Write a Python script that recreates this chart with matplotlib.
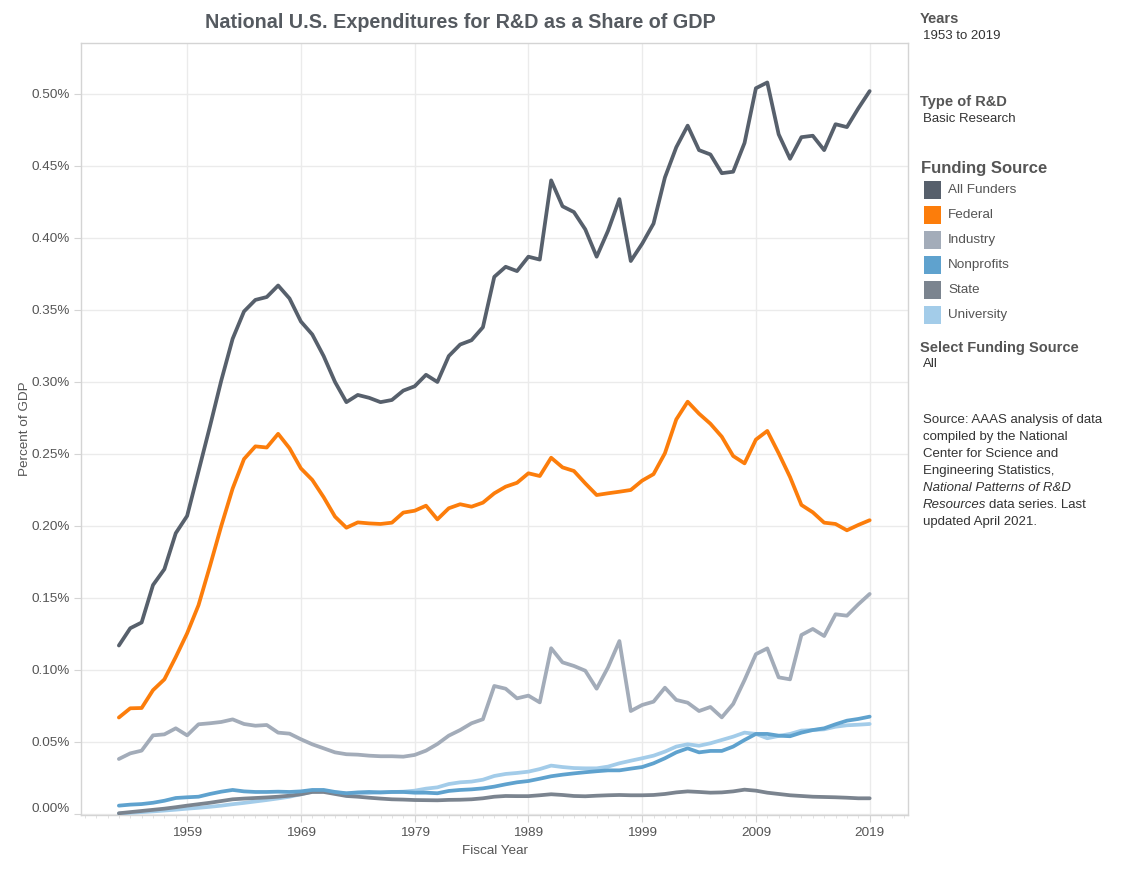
import matplotlib

matplotlib.use("Agg")
import matplotlib.pyplot as plt
import matplotlib.transforms as mtransforms
import numpy as np
from matplotlib.patches import Rectangle
from matplotlib.ticker import FixedLocator, FuncFormatter, MultipleLocator

plt.rcParams["font.family"] = ["Liberation Sans", "DejaVu Sans"]

W, H = 1124, 874

years = list(range(1953, 2020))

all_funders = [
    0.117, 0.129, 0.133, 0.159, 0.170, 0.195, 0.207, 0.238, 0.269, 0.301,
    0.330, 0.349, 0.357, 0.359, 0.367, 0.358, 0.342, 0.333, 0.318, 0.300,
    0.286, 0.291, 0.289, 0.286, 0.2875, 0.294, 0.297, 0.305, 0.300, 0.318,
    0.326, 0.329, 0.338, 0.373, 0.380, 0.377, 0.387, 0.385, 0.440, 0.422,
    0.418, 0.406, 0.387, 0.405, 0.427, 0.384, 0.396, 0.410, 0.442, 0.463,
    0.478, 0.461, 0.458, 0.445, 0.446, 0.466, 0.504, 0.508, 0.472, 0.455,
    0.470, 0.471, 0.461, 0.479, 0.477, 0.490, 0.502,
]
federal = [
    0.067, 0.0734, 0.0736, 0.086, 0.0935, 0.109, 0.1255, 0.145, 0.172, 0.200,
    0.226, 0.2465, 0.2553, 0.2545, 0.264, 0.254, 0.240, 0.232, 0.220, 0.2065,
    0.1988, 0.2025, 0.2018, 0.2014, 0.2023, 0.2093, 0.2106, 0.2141, 0.2046, 0.2123,
    0.2151, 0.2134, 0.2162, 0.2227, 0.2273, 0.230, 0.2366, 0.2347, 0.2474, 0.2407,
    0.2382, 0.2296, 0.2215, 0.2227, 0.2238, 0.225, 0.2315, 0.236, 0.2505, 0.274,
    0.2863, 0.278, 0.271, 0.262, 0.2486, 0.2435, 0.260, 0.266, 0.2505, 0.234,
    0.2146, 0.2095, 0.2023, 0.2014, 0.197, 0.2007, 0.204,
]
industry = [
    0.0382, 0.0421, 0.044, 0.0546, 0.0553, 0.0595, 0.0546, 0.0623, 0.063, 0.0639,
    0.0657, 0.0625, 0.0613, 0.0618, 0.0565, 0.0558, 0.0519, 0.0484, 0.0456, 0.0428,
    0.0415, 0.0412, 0.0405, 0.0401, 0.0401, 0.0398, 0.041, 0.044, 0.0486, 0.0544,
    0.0583, 0.063, 0.0658, 0.0889, 0.087, 0.0803, 0.0822, 0.0775, 0.1151, 0.1053,
    0.1028, 0.0995, 0.087, 0.1019, 0.1201, 0.0715, 0.0757, 0.078, 0.0877, 0.0792,
    0.0773, 0.0715, 0.0743, 0.0671, 0.0764, 0.093, 0.111, 0.115, 0.0949, 0.0935,
    0.1243, 0.1285, 0.1236, 0.1387, 0.1377, 0.1456, 0.1528,
]
nonprofits = [
    0.0058, 0.0065, 0.0069, 0.0078, 0.0092, 0.0111, 0.0116, 0.012, 0.0139, 0.0155,
    0.0167, 0.0157, 0.0153, 0.0153, 0.0155, 0.0153, 0.0157, 0.0167, 0.0167, 0.0153,
    0.0144, 0.015, 0.0153, 0.015, 0.0153, 0.0153, 0.0148, 0.0148, 0.0144, 0.016,
    0.0167, 0.0171, 0.0178, 0.019, 0.0206, 0.022, 0.0229, 0.0245, 0.0262, 0.0273,
    0.0282, 0.029, 0.0297, 0.0303, 0.0303, 0.0315, 0.0326, 0.0352, 0.0387, 0.0428,
    0.0456, 0.0428, 0.0438, 0.0438, 0.0468, 0.0514, 0.0556, 0.0556, 0.0544, 0.054,
    0.0565, 0.0583, 0.0595, 0.0623, 0.0648, 0.066, 0.0676,
]
state = [
    0.0005, 0.0013, 0.0021, 0.0029, 0.0037, 0.0047, 0.0058, 0.0068, 0.0078, 0.009,
    0.0102, 0.0107, 0.0111, 0.0115, 0.012, 0.0127, 0.0137, 0.0153, 0.0153, 0.0139,
    0.0125, 0.012, 0.0113, 0.0107, 0.0102, 0.0100, 0.0097, 0.0096, 0.0095, 0.0098,
    0.0099, 0.0102, 0.0109, 0.012, 0.0125, 0.0124, 0.0124, 0.013, 0.0137, 0.0132,
    0.0125, 0.0123, 0.0127, 0.013, 0.0132, 0.013, 0.013, 0.0132, 0.0139, 0.015,
    0.0157, 0.0153, 0.0148, 0.015, 0.0157, 0.0169, 0.0162, 0.0148, 0.0139, 0.013,
    0.0125, 0.012, 0.0118, 0.0116, 0.0113, 0.0109, 0.0109,
]
university = [
    0.0003, 0.0008, 0.0013, 0.0018, 0.0024, 0.003, 0.0037, 0.0043, 0.005, 0.0058,
    0.0068, 0.0077, 0.0087, 0.0097, 0.0108, 0.012, 0.0137, 0.0155, 0.0158, 0.015,
    0.0142, 0.0146, 0.0146, 0.015, 0.0152, 0.0155, 0.0162, 0.0176, 0.0185, 0.0208,
    0.022, 0.0225, 0.0238, 0.0264, 0.0278, 0.0285, 0.0294, 0.0312, 0.0336, 0.0326,
    0.0319, 0.0317, 0.0317, 0.0329, 0.0352, 0.037, 0.0387, 0.0405, 0.0433, 0.0468,
    0.0484, 0.0474, 0.0491, 0.0514, 0.0537, 0.0565, 0.0556, 0.0526, 0.0542, 0.0556,
    0.0579, 0.0583, 0.0588, 0.0606, 0.0616, 0.062, 0.0625,
]

series_names = ["All Funders", "Federal", "Industry", "Nonprofits", "State", "University"]
series_colors = ["#57606C", "#FC7D0B", "#A3ACB9", "#5FA2CE", "#7B848F", "#A3CCE9"]
x_tick_years = [1959, 1969, 1979, 1989, 1999, 2009, 2019]
y_ticks = [0.0, 0.05, 0.10, 0.15, 0.20, 0.25, 0.30, 0.35, 0.40, 0.45, 0.50]

TEXT = "#555555"
GRID = "#EBEBEB"


def fx(px):
    return px / W


def fy(py):
    return 1 - py / H


fig = plt.figure(figsize=(W / 100, H / 100), dpi=100)
fig.patch.set_facecolor("white")
ax = fig.add_axes([fx(81), fy(815), fx(908) - fx(81), fy(43) - fy(815)])

values = dict(zip(series_names, [all_funders, federal, industry, nonprofits, state, university]))
draw_order = ["University", "State", "Nonprofits", "Industry", "Federal", "All Funders"]
for name in draw_order:
    color = series_colors[series_names.index(name)]
    ax.plot(years, values[name], color=color, linewidth=2.7, solid_joinstyle="round",
            solid_capstyle="round", zorder=3)

ax.set_xlim(1949.67, 2022.37)
ax.set_ylim(-0.0007, 0.5354)

ax.xaxis.set_major_locator(FixedLocator(x_tick_years))
ax.xaxis.set_minor_locator(MultipleLocator(1))
ax.yaxis.set_major_locator(FixedLocator(y_ticks))
ax.yaxis.set_major_formatter(FuncFormatter(lambda v, p: f"{v:.2f}%"))

ax.grid(True, which="major", color=GRID, linewidth=1.0, zorder=0)
ax.set_axisbelow(True)
for line in ax.get_ygridlines():
    if abs(line.get_ydata()[0] - 0.30) < 1e-9:
        line.set_color("#E2E2E2")
        line.set_linewidth(1.8)

for side in ["left", "right", "top", "bottom"]:
    ax.spines[side].set_color("#D4D4D4")
    ax.spines[side].set_linewidth(1.0)

ax.tick_params(axis="x", which="major", length=5, color="#D4D4D4", labelsize=9.7,
               labelcolor=TEXT, pad=4)
ax.tick_params(axis="x", which="minor", length=2.5, color="#DDDDDD")
ax.tick_params(axis="y", which="major", length=5, color="#D4D4D4", labelsize=9.7,
               labelcolor=TEXT, pad=3)

# the bottom label sits a little higher, as in the reference
fig.canvas.draw()
zero_label = ax.yaxis.get_major_ticks()[0].label1
zero_label.set_transform(zero_label.get_transform()
                         + mtransforms.ScaledTranslation(0, 6 / 100, fig.dpi_scale_trans))

ax.set_xlabel("Fiscal Year", fontsize=9.7, color=TEXT, labelpad=4)
ax.set_ylabel("Percent of GDP", fontsize=9.7, color=TEXT, labelpad=0)

fig.text(fx(460), fy(22), "National U.S. Expenditures for R&D as a Share of GDP",
         ha="center", va="center", fontsize=14.2, fontweight="bold", color="#555A60")

# right-hand panel
fig.text(fx(920), fy(19), "Years", ha="left", va="center", fontsize=10.5,
         fontweight="bold", color=TEXT)
fig.text(fx(923), fy(36), "1953 to 2019", ha="left", va="center", fontsize=9.5, color="#333333")
fig.text(fx(920), fy(102), "Type of R&D", ha="left", va="center", fontsize=10.5,
         fontweight="bold", color=TEXT)
fig.text(fx(923), fy(119), "Basic Research", ha="left", va="center", fontsize=9.5,
         color="#333333")
fig.text(fx(921), fy(169), "Funding Source", ha="left", va="center", fontsize=12,
         fontweight="bold", color=TEXT)

for i, (name, color) in enumerate(zip(series_names, series_colors)):
    cy = 190 + i * 25
    fig.add_artist(Rectangle((fx(924), fy(cy + 9)), fx(17), 18 / H, transform=fig.transFigure,
                             facecolor=color, edgecolor="none"))
    fig.text(fx(948), fy(cy), name, ha="left", va="center", fontsize=9.7, color=TEXT)

fig.text(fx(920), fy(348), "Select Funding Source", ha="left", va="center", fontsize=10.5,
         fontweight="bold", color=TEXT)
fig.text(fx(923), fy(364), "All", ha="left", va="center", fontsize=9.5, color="#333333")

source_lines = [
    ("Source: AAAS analysis of data", "normal"),
    ("compiled by the National", "normal"),
    ("Center for Science and", "normal"),
    ("Engineering Statistics,", "normal"),
    ("National Patterns of R&D", "italic"),
]
for i, (txt, style) in enumerate(source_lines):
    fig.text(fx(923), fy(420 + i * 17), txt, ha="left", va="center", fontsize=9.5,
             color="#333333", style=style)
t = fig.text(fx(923), fy(505), "Resources", ha="left", va="center", fontsize=9.5,
             color="#333333", style="italic")
fig.canvas.draw()
bb = t.get_window_extent()
fig.text(bb.x1 / W + fx(3), fy(505), "data series. Last", ha="left", va="center",
         fontsize=9.5, color="#333333")
fig.text(fx(923), fy(522), "updated April 2021.", ha="left", va="center", fontsize=9.5,
         color="#333333")

fig.savefig("out.png", dpi=100, facecolor="white")
